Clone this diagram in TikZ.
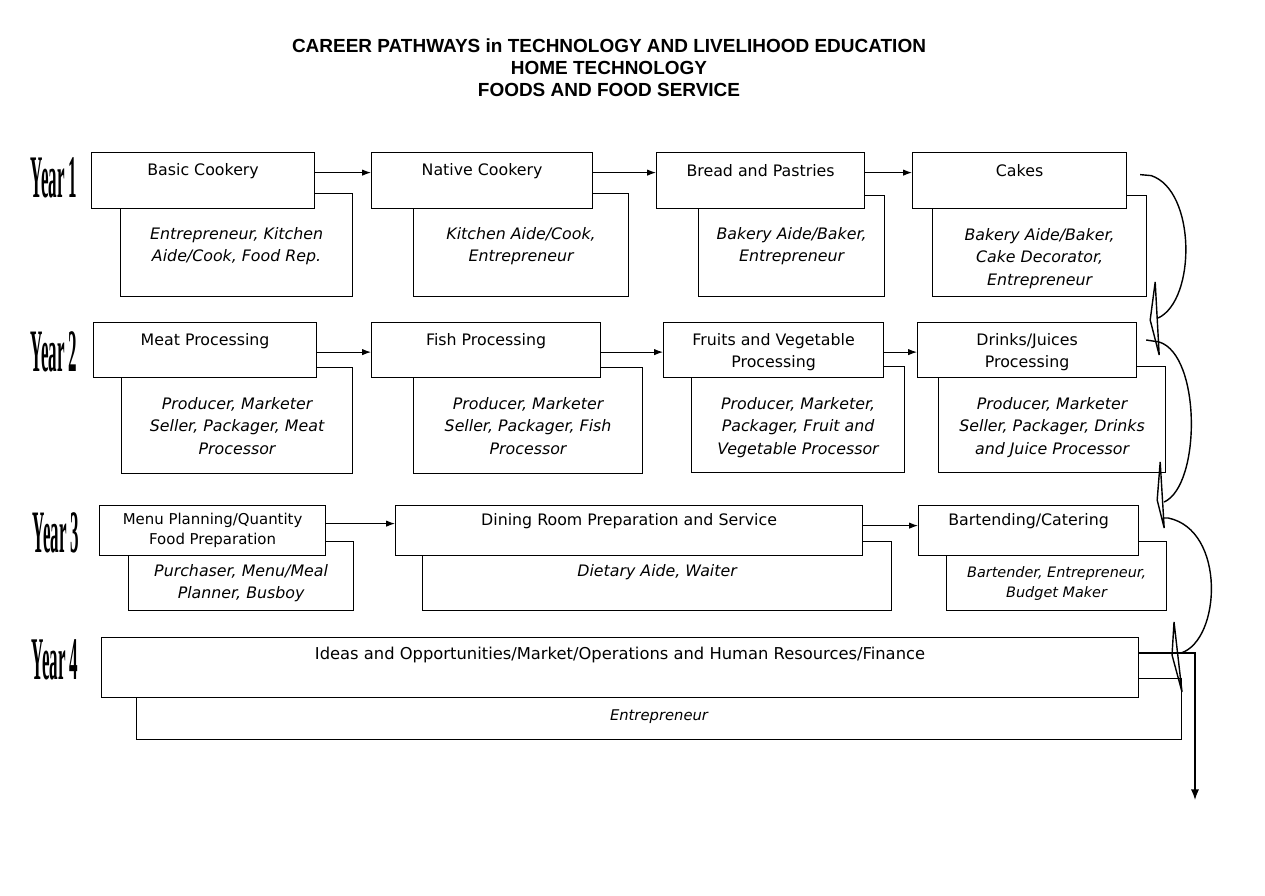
\documentclass[tikz,border=0pt]{standalone}
\usepackage{graphicx}
\usepackage{fontspec}
\setmainfont{DejaVu Sans}
\newfontfamily\titlefont{Liberation Sans}
\newfontfamily\yearfont{Liberation Serif}
\usetikzlibrary{calc}
\usetikzlibrary{arrows.meta}

\tikzset{
  topbox/.style={draw, line width=0.7pt, fill=white, anchor=north west, inner sep=0pt},
  backbox/.style={draw, line width=0.7pt, anchor=north west, inner sep=0pt},
  toptext/.style={font=\fontsize{9}{12.5}\selectfont, align=center, inner sep=0pt},
  jobtext/.style={font=\fontsize{9}{12.8}\selectfont\itshape, align=center, anchor=north, inner sep=0pt},
  yearlbl/.style={inner sep=0pt},
  flow/.style={line width=0.6pt, -{Latex[length=5pt,width=3.6pt]}},
  bendline/.style={line width=0.8pt},
}
\newcommand{\yearmark}[1]{\resizebox{26.6pt}{22.7pt}{\yearfont\bfseries Year #1}}

\begin{document}
\begin{tikzpicture}[x=0.02cm, y=-0.02cm]
  \useasboundingbox (0,0) rectangle (1265,896);

  % title
  \node[font=\titlefont\bfseries\fontsize{10.8}{12.5}\selectfont, align=center, anchor=north, inner sep=0pt] (title) at (609,38)
    {CAREER PATHWAYS in TECHNOLOGY AND LIVELIHOOD EDUCATION\\HOME TECHNOLOGY\\FOODS AND FOOD SERVICE};

  % year labels
  \node[yearlbl] (y1) at (54,178) {\yearmark{1}};
  \node[yearlbl] (y2) at (54,352) {\yearmark{2}};
  \node[yearlbl] (y3) at (56,533) {\yearmark{3}};
  \node[yearlbl] (y4) at (55,660) {\yearmark{4}};

  % year 1
  \node[backbox, minimum width=4.64cm, minimum height=2.06cm] (basic-b) at (120,193) {};
  \node[topbox, minimum width=4.46cm, minimum height=1.12cm] (basic) at (91,152) {};
  \node[backbox, minimum width=4.30cm, minimum height=2.06cm] (native-b) at (413,193) {};
  \node[topbox, minimum width=4.42cm, minimum height=1.12cm] (native) at (371,152) {};
  \node[backbox, minimum width=3.72cm, minimum height=2.02cm] (bread-b) at (698,195) {};
  \node[topbox, minimum width=4.16cm, minimum height=1.12cm] (bread) at (656,152) {};
  \node[backbox, minimum width=4.28cm, minimum height=2.02cm] (cakes-b) at (932,195) {};
  \node[topbox, minimum width=4.28cm, minimum height=1.12cm] (cakes) at (912,152) {};

  \node[toptext] (basic-t) at ($(basic.north)+(0,19)$) {Basic Cookery};
  \node[toptext] (native-t) at ($(native.north)+(0,19)$) {Native Cookery};
  \node[toptext] (bread-t) at ($(bread.north)+(0,19)$) {Bread and Pastries};
  \node[toptext] (cakes-t) at ($(cakes.north)+(0,19)$) {Cakes};

  \node[jobtext] (basic-j) at ($(basic-b.north)+(0,34)$) {Entrepreneur, Kitchen\\Aide/Cook, Food Rep.};
  \node[jobtext] (native-j) at ($(native-b.north)+(0,34)$) {Kitchen Aide/Cook,\\Entrepreneur};
  \node[jobtext] (bread-j) at ($(bread-b.north)+(0,32)$) {Bakery Aide/Baker,\\Entrepreneur};
  \node[jobtext] (cakes-j) at ($(cakes-b.north)+(0,33)$) {Bakery Aide/Baker,\\Cake Decorator,\\Entrepreneur};

  \draw[flow] ($(basic.east)+(0,-8)$) -- ($(native.west)+(0,-8)$);
  \draw[flow] ($(native.east)+(0,-8)$) -- ($(bread.west)+(0,-8)$);
  \draw[flow] ($(bread.east)+(0,-8)$) -- ($(cakes.west)+(0,-8)$);

  % year 2
  \node[backbox, minimum width=4.62cm, minimum height=2.12cm] (meat-b) at (121,367) {};
  \node[topbox, minimum width=4.46cm, minimum height=1.10cm] (meat) at (93,322) {};
  \node[backbox, minimum width=4.58cm, minimum height=2.12cm] (fish-b) at (413,367) {};
  \node[topbox, minimum width=4.58cm, minimum height=1.10cm] (fish) at (371,322) {};
  \node[backbox, minimum width=4.26cm, minimum height=2.12cm] (fruit-b) at (691,366) {};
  \node[topbox, minimum width=4.40cm, minimum height=1.10cm] (fruit) at (663,322) {};
  \node[backbox, minimum width=4.54cm, minimum height=2.12cm] (drink-b) at (938,366) {};
  \node[topbox, minimum width=4.38cm, minimum height=1.10cm] (drink) at (917,322) {};

  \node[toptext] (meat-t) at ($(meat.north)+(0,19)$) {Meat Processing};
  \node[toptext] (fish-t) at ($(fish.north)+(0,19)$) {Fish Processing};
  \node[toptext] (fruit-t) at ($(fruit.north)+(0,30)$) {Fruits and Vegetable\\Processing};
  \node[toptext] (drink-t) at ($(drink.north)+(0,30)$) {Drinks/Juices\\Processing};

  \node[jobtext] (meat-j) at ($(meat-b.north)+(0,30)$) {Producer, Marketer\\Seller, Packager, Meat\\Processor};
  \node[jobtext] (fish-j) at ($(fish-b.north)+(0,30)$) {Producer, Marketer\\Seller, Packager, Fish\\Processor};
  \node[jobtext] (fruit-j) at ($(fruit-b.north)+(0,31)$) {Producer, Marketer,\\Packager, Fruit and\\Vegetable Processor};
  \node[jobtext] (drink-j) at ($(drink-b.north)+(0,31)$) {Producer, Marketer\\Seller, Packager, Drinks\\and Juice Processor};

  \draw[flow] ($(meat.east)+(0,2)$) -- ($(fish.west)+(0,2)$);
  \draw[flow] ($(fish.east)+(0,2)$) -- ($(fruit.west)+(0,2)$);
  \draw[flow] ($(fruit.east)+(0,2)$) -- ($(drink.west)+(0,2)$);

  % year 3
  \node[backbox, minimum width=4.50cm, minimum height=1.38cm] (menu-b) at (128,541) {};
  \node[topbox, minimum width=4.52cm, minimum height=1.00cm] (menu) at (99,505) {};
  \node[backbox, minimum width=9.38cm, minimum height=1.38cm] (dining-b) at (422,541) {};
  \node[topbox, minimum width=9.34cm, minimum height=1.00cm] (dining) at (395,505) {};
  \node[backbox, minimum width=4.40cm, minimum height=1.38cm] (bart-b) at (946,541) {};
  \node[topbox, minimum width=4.40cm, minimum height=1.00cm] (bart) at (918,505) {};

  \node[toptext, font=\fontsize{8.5}{11.3}\selectfont] (menu-t) at ($(menu.north)+(0,25)$) {Menu Planning/Quantity\\Food Preparation};
  \node[toptext] (dining-t) at ($(dining.north)+(0,16)$) {Dining Room Preparation and Service};
  \node[toptext] (bart-t) at ($(bart.north)+(0,16)$) {Bartending/Catering};

  \node[jobtext] (menu-j) at ($(menu-b.north)+(0,23)$) {Purchaser, Menu/Meal\\Planner, Busboy};
  \node[jobtext] (dining-j) at ($(dining-b.north)+(0,23)$) {Dietary Aide, Waiter};
  \node[jobtext, font=\fontsize{8.2}{11.5}\selectfont\itshape] (bart-j) at ($(bart-b.north)+(0,25)$) {Bartender, Entrepreneur,\\Budget Maker};

  \draw[flow] ($(menu.east)+(0,-7)$) -- ($(dining.west)+(0,-7)$);
  \draw[flow] ($(dining.east)+(0,-5)$) -- ($(bart.west)+(0,-5)$);

  % year 4
  \node[backbox, minimum width=20.90cm, minimum height=1.22cm] (ideas-b) at (136,678) {};
  \node[topbox, minimum width=20.74cm, minimum height=1.20cm] (ideas) at (101,637) {};

  \node[toptext, font=\fontsize{9.3}{12.5}\selectfont] (ideas-t) at ($(ideas.north)+(0,18)$) {Ideas and Opportunities/Market/Operations and Human Resources/Finance};
  \node[jobtext, font=\fontsize{8.4}{11.5}\selectfont\itshape] (ideas-j) at ($(ideas-b.north)+(0,31)$) {Entrepreneur};

  % curved arrows down the right side
  \coordinate (c1s) at ($(cakes.east)+(13,-6)$);
  \coordinate (c1e) at ($(drink.north east)+(21,-4)$);
  \draw[bendline] (c1s) -- ++(11,1) .. controls +(45,15) and +(38,-18) .. (c1e);
  \draw[bendline] ($(c1e)+(-3,-36)$) -- ($(c1e)+(-8,2)$) -- ($(c1e)+(1,37)$) -- cycle;

  \coordinate (c2s) at ($(drink.north east)+(9,18)$);
  \coordinate (c2e) at ($(bart.north east)+(25,-3)$);
  \draw[bendline] (c2s) -- ++(13,2) .. controls +(42,13) and +(37,-17) .. (c2e);
  \draw[bendline] ($(c2e)+(-4,-40)$) -- ($(c2e)+(-7,-2)$) -- ($(c2e)+(0,26)$) -- cycle;

  \coordinate (c3s) at ($(bart.north east)+(24,13)$);
  \coordinate (c3e) at ($(ideas.north east)+(42,16)$);
  \draw[bendline] (c3s) -- ++(5,0) .. controls +(58,12) and +(40,-13) .. (c3e);
  \draw[bendline] ($(c3e)+(-7,-31)$) -- ($(c3e)+(-9,2)$) -- ($(c3e)+(1,39)$) -- cycle;

  \coordinate (exit) at (1195,800);
  \draw[line width=1.2pt] ($(ideas.east)+(0,-15)$) -- ($(ideas.east)+(57,-15)$);
  \draw[flow, line width=0.8pt, -{Latex[length=6pt,width=4.6pt]}] ($(ideas.east)+(0,-15)$) -| (exit);
\end{tikzpicture}
\end{document}
